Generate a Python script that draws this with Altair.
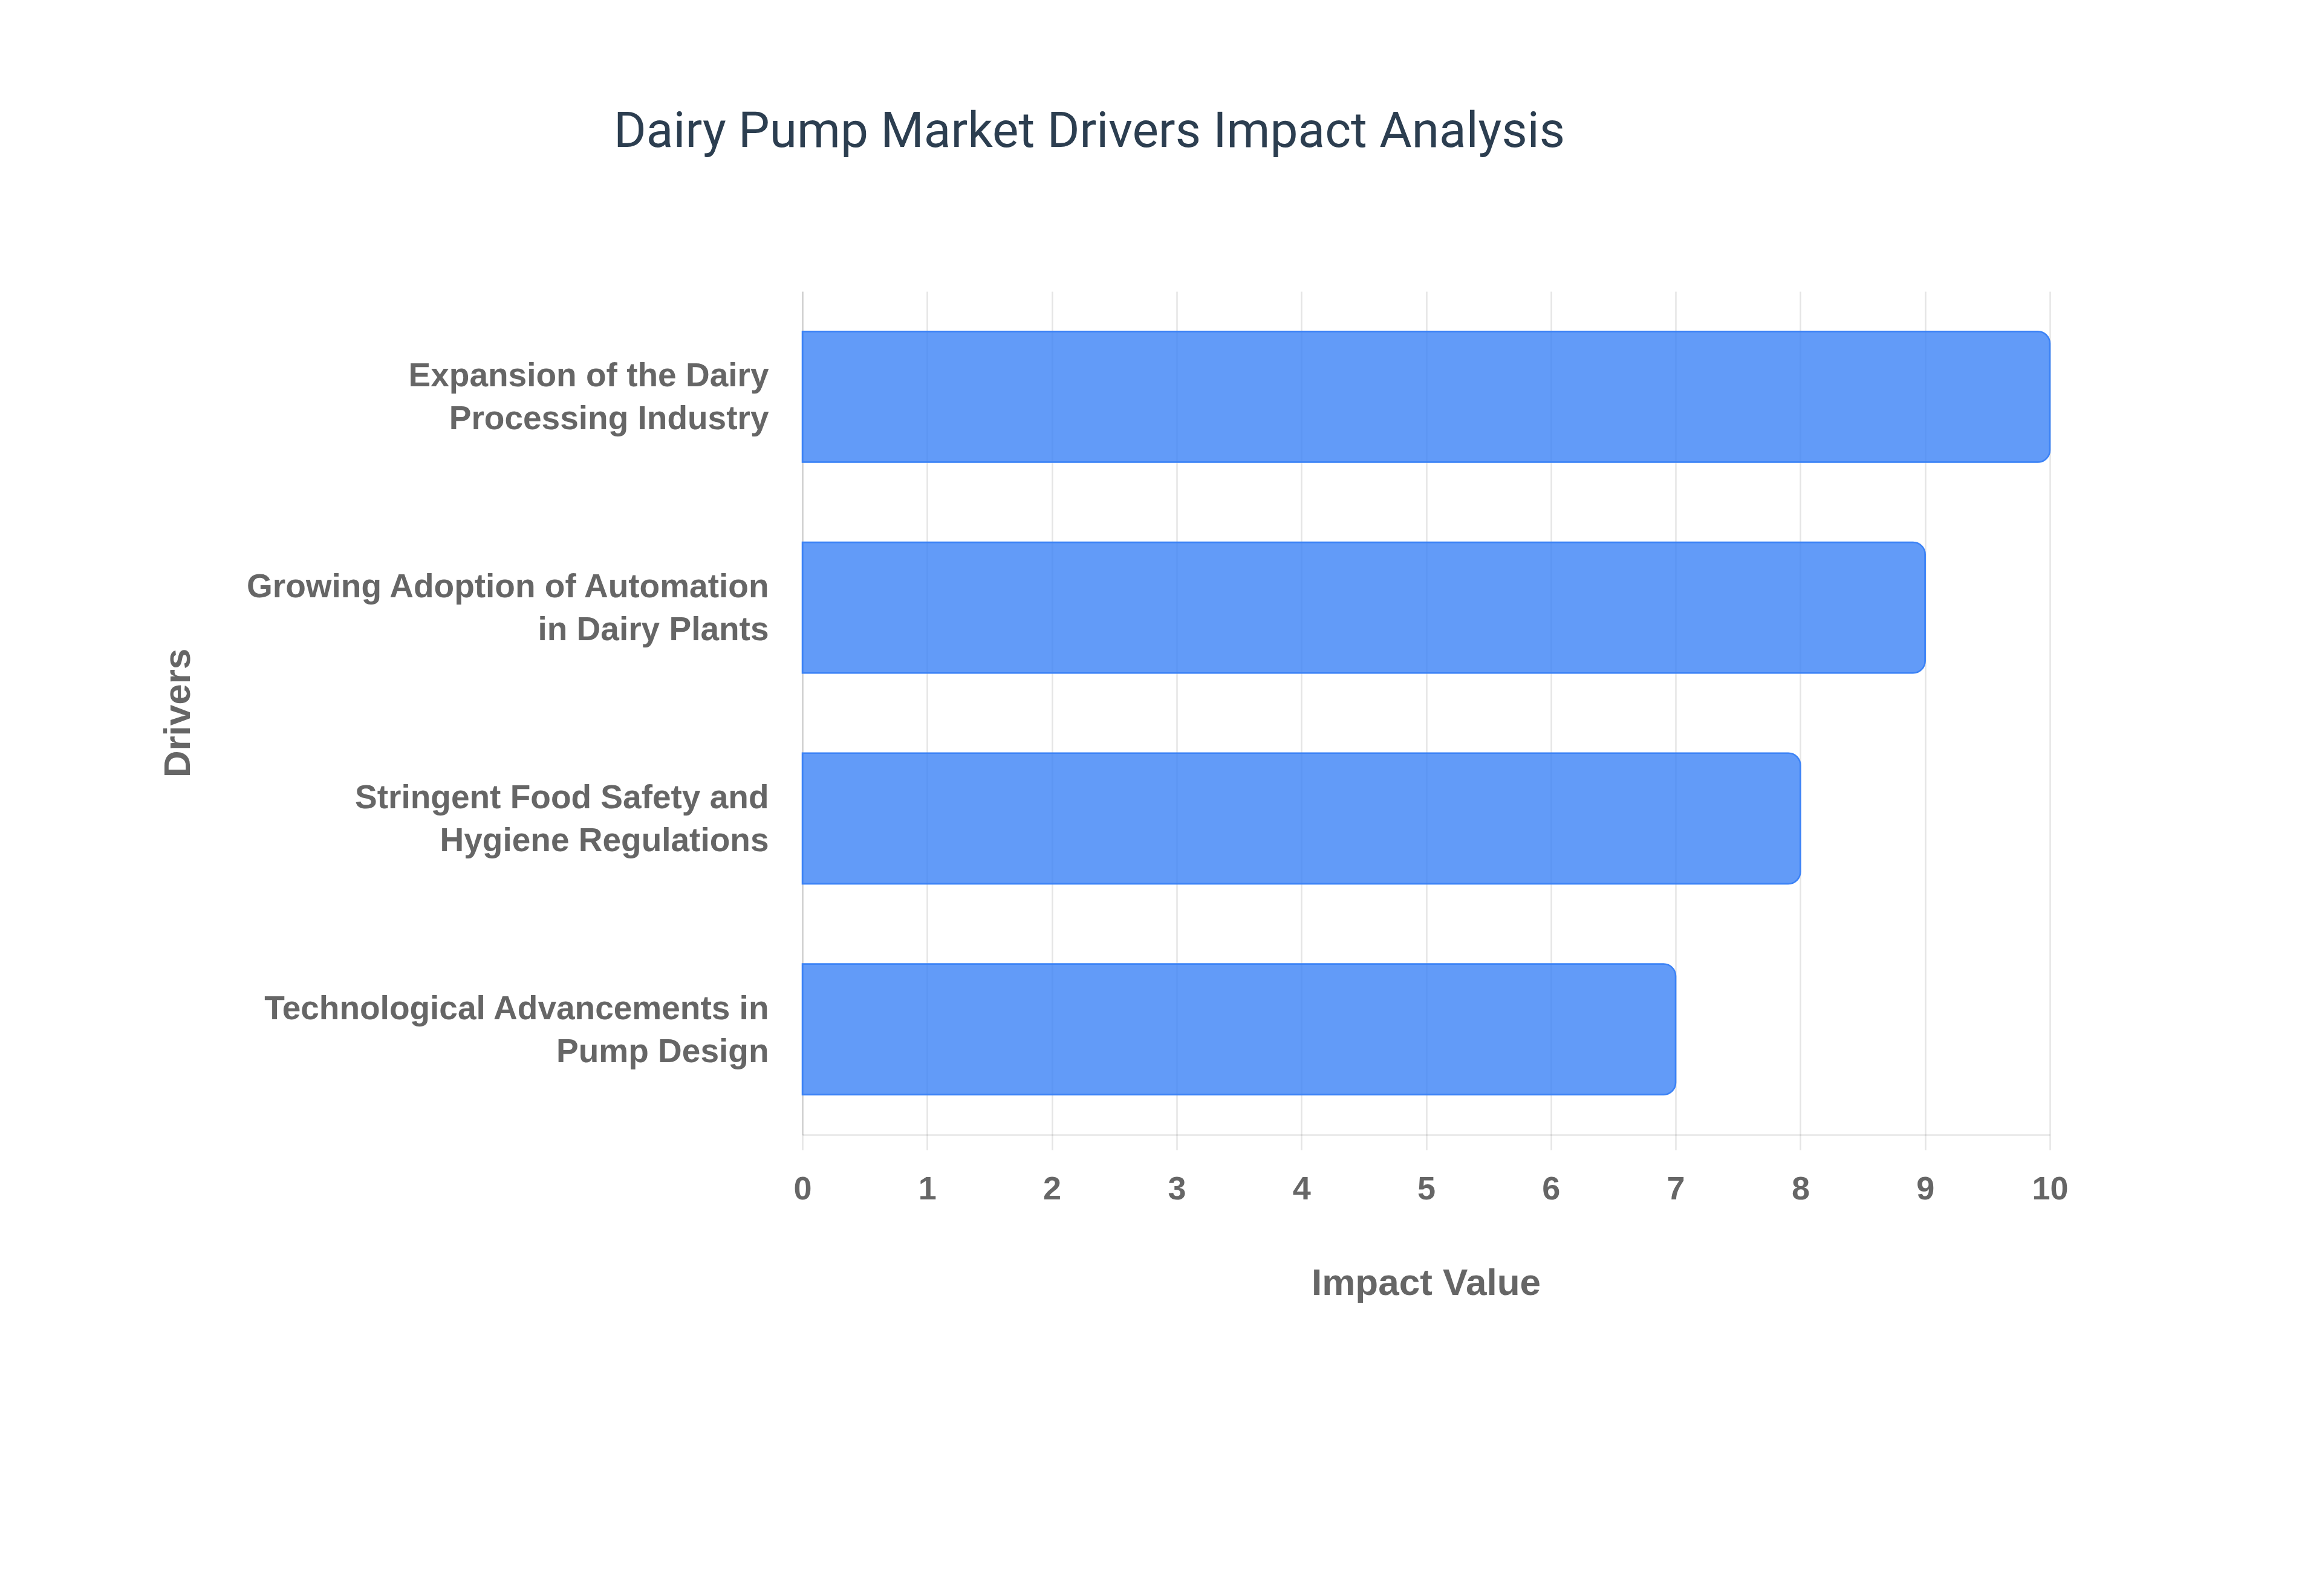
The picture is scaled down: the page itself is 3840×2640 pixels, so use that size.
import altair as alt
import pandas as pd

drivers = [
    "Expansion of the Dairy Processing Industry",
    "Growing Adoption of Automation in Dairy Plants",
    "Stringent Food Safety and Hygiene Regulations",
    "Technological Advancements in Pump Design",
]
label_lines = [
    "Expansion of the Dairy\nProcessing Industry",
    "Growing Adoption of Automation\nin Dairy Plants",
    "Stringent Food Safety and\nHygiene Regulations",
    "Technological Advancements in\nPump Design",
]
impact = [10, 9, 8, 7]
x_ticks = list(range(0, 11))

df = pd.DataFrame({"Driver": label_lines, "Impact": impact})

GRID = "rgba(0,0,0,0.1)"
LABEL = "#666666"

chart = (
    alt.Chart(df)
    .mark_bar(
        fill="#3b82f6",
        fillOpacity=0.8,
        stroke="#3b82f6",
        strokeWidth=2.5,
        cornerRadiusEnd=20,
    )
    .encode(
        x=alt.X(
            "Impact:Q",
            scale=alt.Scale(domain=[0, 10], nice=False),
            axis=alt.Axis(
                title="Impact Value",
                values=x_ticks,
                format="d",
                grid=True,
                gridColor=GRID,
                gridWidth=2.5,
                domainColor=GRID,
                domainWidth=2.5,
                ticks=True,
                tickSize=25,
                tickColor=GRID,
                tickWidth=2.5,
                labelFlush=False,
                labelFont="Liberation Sans",
                labelFontSize=54,
                labelFontWeight="bold",
                labelColor=LABEL,
                labelPadding=38,
                titleFont="Liberation Sans",
                titleFontSize=62,
                titleFontWeight="bold",
                titleColor=LABEL,
                titleX=1031,
                titleY=215,
                titleBaseline="top",
                titleAlign="center",
            ),
        ),
        y=alt.Y(
            "Driver:N",
            sort=label_lines,
            scale=alt.Scale(paddingInner=0.38, paddingOuter=0.19),
            axis=alt.Axis(
                title="Drivers",
                labelExpr="split(datum.label, '\\n')",
                grid=False,
                ticks=False,
                tickSize=0,
                domainColor=GRID,
                domainWidth=2.5,
                labelFont="Liberation Sans",
                labelFontSize=55,
                labelFontWeight="bold",
                labelColor=LABEL,
                labelLineHeight=71,
                labelPadding=56,
                labelOffset=-34,
                labelLimit=2000,
                titleFont="Liberation Sans",
                titleFontSize=62,
                titleFontWeight="bold",
                titleColor=LABEL,
                titleAngle=270,
                titleX=-1001,
                titleY=697,
                titleBaseline="bottom",
                titleAlign="center",
            ),
        ),
    )
    .properties(
        width=2063,
        height=1395,
        title=alt.TitleParams(
            text="Dairy Pump Market Drivers Impact Analysis",
            font="Roboto",
            fontSize=82,
            fontWeight="normal",
            color="#2c3e50",
            anchor="middle",
            frame="group",
            dx=-557,
            offset=157,
            baseline="alphabetic",
        ),
        autosize=alt.AutoSizeParams(type="none"),
        padding={"left": 1319, "top": 474, "right": 442, "bottom": 755},
        background="white",
    )
    .configure_view(stroke=None)
)

chart.save("out.html", embed_options={"renderer": "svg", "actions": False})
